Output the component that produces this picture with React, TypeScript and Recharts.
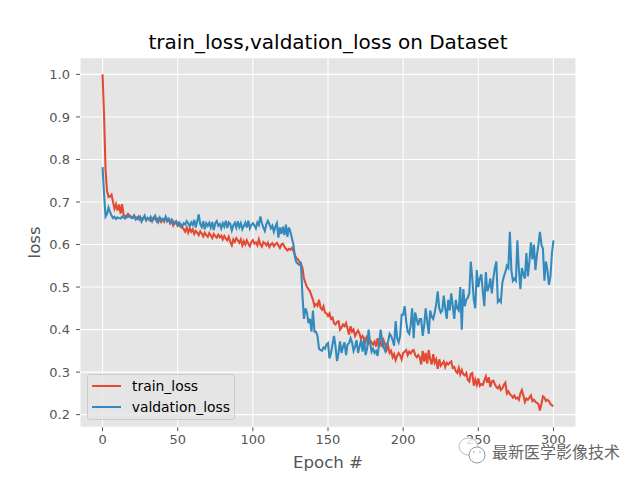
import { CartesianGrid, Line, LineChart, XAxis, YAxis } from "recharts";

// one row per 10 epochs
const trainLoss = [
    1.000, .905, .775, .725, .712, .713, .717, .700, .684, .695,
    .680, .694, .673, .695, .670, .666, .664, .672, .668, .665,
    .664, .668, .662, .660, .666, .658, .662, .660, .664, .657,
    .663, .660, .656, .662, .659, .664, .655, .661, .658, .653,
    .660, .656, .662, .654, .658, .650, .655, .645, .652, .655,
    .644, .647, .641, .640, .636, .630, .640, .628, .638, .630,
    .636, .625, .632, .628, .622, .631, .626, .619, .628, .622,
    .618, .627, .621, .615, .625, .620, .616, .623, .617, .621,
    .612, .620, .614, .610, .618, .606, .598, .612, .606, .615,
    .610, .604, .612, .598, .608, .600, .610, .602, .596, .606,
    .610, .602, .605, .598, .612, .600, .595, .606, .603, .598,
    .604, .594, .600, .603, .596, .601, .604, .598, .592, .600,
    .602, .595, .590, .586, .590, .588, .592, .585, .575, .568,
    .565, .560, .555, .545, .520, .510, .500, .495, .490, .480,
    .470, .455, .460, .456, .470, .452, .447, .455, .440, .438,
    .432, .438, .425, .428, .415, .412, .418, .420, .400, .405,
    .412, .408, .415, .402, .388, .408, .395, .400, .385, .392,
    .398, .390, .378, .385, .380, .372, .386, .368, .375, .370,
    .365, .372, .360, .380, .358, .370, .362, .375, .365, .352,
    .362, .345, .350, .335, .342, .328, .338, .345, .340, .330,
    .345, .348, .352, .340, .348, .344, .350, .352, .340, .335,
    .340, .335, .318, .350, .325, .345, .320, .352, .330, .318,
    .342, .322, .330, .308, .330, .315, .320, .325, .312, .322,
    .318, .322, .325, .310, .312, .302, .298, .310, .295, .305,
    .295, .292, .298, .282, .278, .296, .298, .268, .282, .270,
    .285, .268, .272, .270, .280, .290, .275, .288, .265, .278,
    .280, .272, .265, .262, .268, .258, .262, .270, .275, .250,
    .255, .248, .245, .240, .245, .238, .240, .235, .250, .258,
    .245, .230, .238, .235, .240, .245, .232, .235, .230, .228,
    .225, .210, .225, .243, .240, .232, .235, .232, .225, .222,
    .220,
];

const valLoss = [
    .782, .720, .666, .672, .687, .676, .668, .662, .665, .660,
    .664, .662, .661, .666, .663, .661, .668, .665, .667, .663,
    .662, .668, .659, .664, .660, .665, .654, .662, .668, .657,
    .662, .658, .665, .655, .663, .668, .657, .652, .664, .659,
    .660, .654, .666, .658, .661, .651, .659, .655, .649, .653,
    .645, .652, .648, .642, .650, .647, .655, .650, .643, .652,
    .646, .658, .640, .655, .671, .648, .641, .655, .636, .650,
    .644, .651, .640, .653, .634, .650, .655, .644, .648, .638,
    .650, .642, .656, .639, .652, .648, .633, .645, .651, .640,
    .655, .641, .650, .636, .644, .652, .640, .656, .638, .646,
    .650, .645, .638, .652, .646, .666, .650, .640, .632, .648,
    .656, .648, .638, .644, .630, .642, .650, .616, .640, .625,
    .642, .622, .647, .618, .640, .630, .615, .600, .570, .558,
    .555, .552, .555, .480, .425, .450, .440, .415, .425, .395,
    .445, .395, .395, .385, .355, .352, .350, .358, .355, .365,
    .368, .332, .345, .365, .385, .360, .326, .345, .372, .345,
    .360, .370, .340, .365, .368, .380, .370, .350, .360, .375,
    .345, .360, .375, .348, .378, .340, .355, .400, .370, .348,
    .355, .345, .350, .338, .365, .400, .375, .360, .350, .365,
    .372, .390, .385, .375, .362, .420, .380, .370, .385, .435,
    .435, .455, .420, .395, .390, .410, .450, .380, .440, .425,
    .410, .425, .425, .385, .410, .450, .420, .390, .445, .430,
    .425, .440, .460, .490, .450, .440, .445, .480, .450, .425,
    .470, .445, .485, .455, .425, .470, .450, .445, .500, .400,
    .495, .455, .470, .475, .485, .560, .520, .470, .450, .540,
    .500, .520, .530, .490, .455, .535, .490, .500, .520, .485,
    .520, .545, .560, .465, .470, .465, .510, .525, .535, .550,
    .545, .630, .540, .515, .520, .515, .610, .540, .495, .545,
    .530, .520, .580, .525, .560, .605, .565, .600, .540, .575,
    .600, .630, .600, .590, .515, .560, .540, .505, .525, .580,
    .610,
];

const xTicks = [0, 50, 100, 150, 200, 250, 300];
const yTicks = [0.2, 0.3, 0.4, 0.5, 0.6, 0.7, 0.8, 0.9, 1.0];

const data = trainLoss.map((train, i) => ({ epoch: i, train, val: valLoss[i] }));

const font = "'DejaVu Sans'";
const tickStyle = { fontSize: 13, fontFamily: font, fill: "#555555" };

function LegendBox() {
    const rows = [
        { label: "train_loss", color: "#E24A33" },
        { label: "valdation_loss", color: "#348ABD" },
    ];
    return (
        <div style={{ position: "absolute", left: 87, top: 374, width: 148, height: 46, boxSizing: "border-box", background: "rgba(229,229,229,0.8)", border: "1px solid #ccc", borderRadius: 3, padding: "0 4px" }}>
            {rows.map((r) => (
                <div key={r.label} style={{ display: "flex", alignItems: "center", height: 21, fontFamily: font, fontSize: 13.9, color: "#000" }}>
                    <span style={{ width: 29, height: 2, background: r.color, marginRight: 11 }} />
                    {r.label}
                </div>
            ))}
        </div>
    );
}

export default function App() {
    return (
        <div style={{ position: "absolute", left: 0, top: 0, width: 640, height: 480, background: "#fff", overflow: "hidden" }}>
            <LineChart width={640} height={480} data={data} margin={{ top: 57.6, right: 64, bottom: 0, left: 0 }}>
                <CartesianGrid fill="#E5E5E5" stroke="#fff" strokeWidth={1.1} />
                <XAxis
                    dataKey="epoch"
                    type="number"
                    domain={[-15, 315]}
                    ticks={xTicks}
                    height={52.8}
                    axisLine={false}
                    tickSize={4}
                    tickMargin={4}
                    tickLine={{ stroke: "#555555" }}
                    tick={tickStyle}
                    interval={0}
                    label={{ value: "Epoch #", position: "insideBottom", offset: 12, style: { fontSize: 16.6, fontFamily: font, fill: "#555555" } }}
                />
                <YAxis
                    type="number"
                    domain={[0.1705, 1.0395]}
                    ticks={yTicks}
                    width={80}
                    axisLine={false}
                    tickSize={4}
                    tickMargin={6}
                    tickLine={{ stroke: "#555555" }}
                    tick={tickStyle}
                    interval={0}
                    allowDataOverflow
                    tickFormatter={(v: number) => v.toFixed(1)}
                    label={{ value: "loss", angle: -90, position: "insideLeft", offset: 34, style: { fontSize: 16.6, fontFamily: font, fill: "#555555", textAnchor: "middle" } }}
                />
                <Line dataKey="train" stroke="#E24A33" strokeWidth={2.08} dot={false} isAnimationActive={false} />
                <Line dataKey="val" stroke="#348ABD" strokeWidth={2.08} dot={false} isAnimationActive={false} />
                <text x={328} y={49} textAnchor="middle" fontFamily={font} fontSize={20} fill="#000">
                    train_loss,valdation_loss on Dataset
                </text>
            </LineChart>
            <LegendBox />
            {/* watermark over the bottom right corner */}
            <svg width={40} height={30} style={{ position: "absolute", left: 458, top: 436 }}>
                <ellipse cx={10.5} cy={10.5} rx={9.5} ry={8.5} fill="#fff" fillOpacity={0.8} stroke="#bbb" strokeWidth={1} />
                <ellipse cx={19} cy={19} rx={8} ry={8} fill="#fff" stroke="#999" strokeWidth={1} />
                <circle cx={16} cy={16} r={0.8} fill="#999" />
                <circle cx={22} cy={16} r={0.8} fill="#999" />
            </svg>
            <div style={{ position: "absolute", left: 492, top: 441, fontFamily: "'Noto Sans CJK SC'", fontSize: 16, lineHeight: "20px", color: "#666", whiteSpace: "nowrap", textShadow: "0 0 2px #fff" }}>
                最新医学影像技术
            </div>
        </div>
    );
}
